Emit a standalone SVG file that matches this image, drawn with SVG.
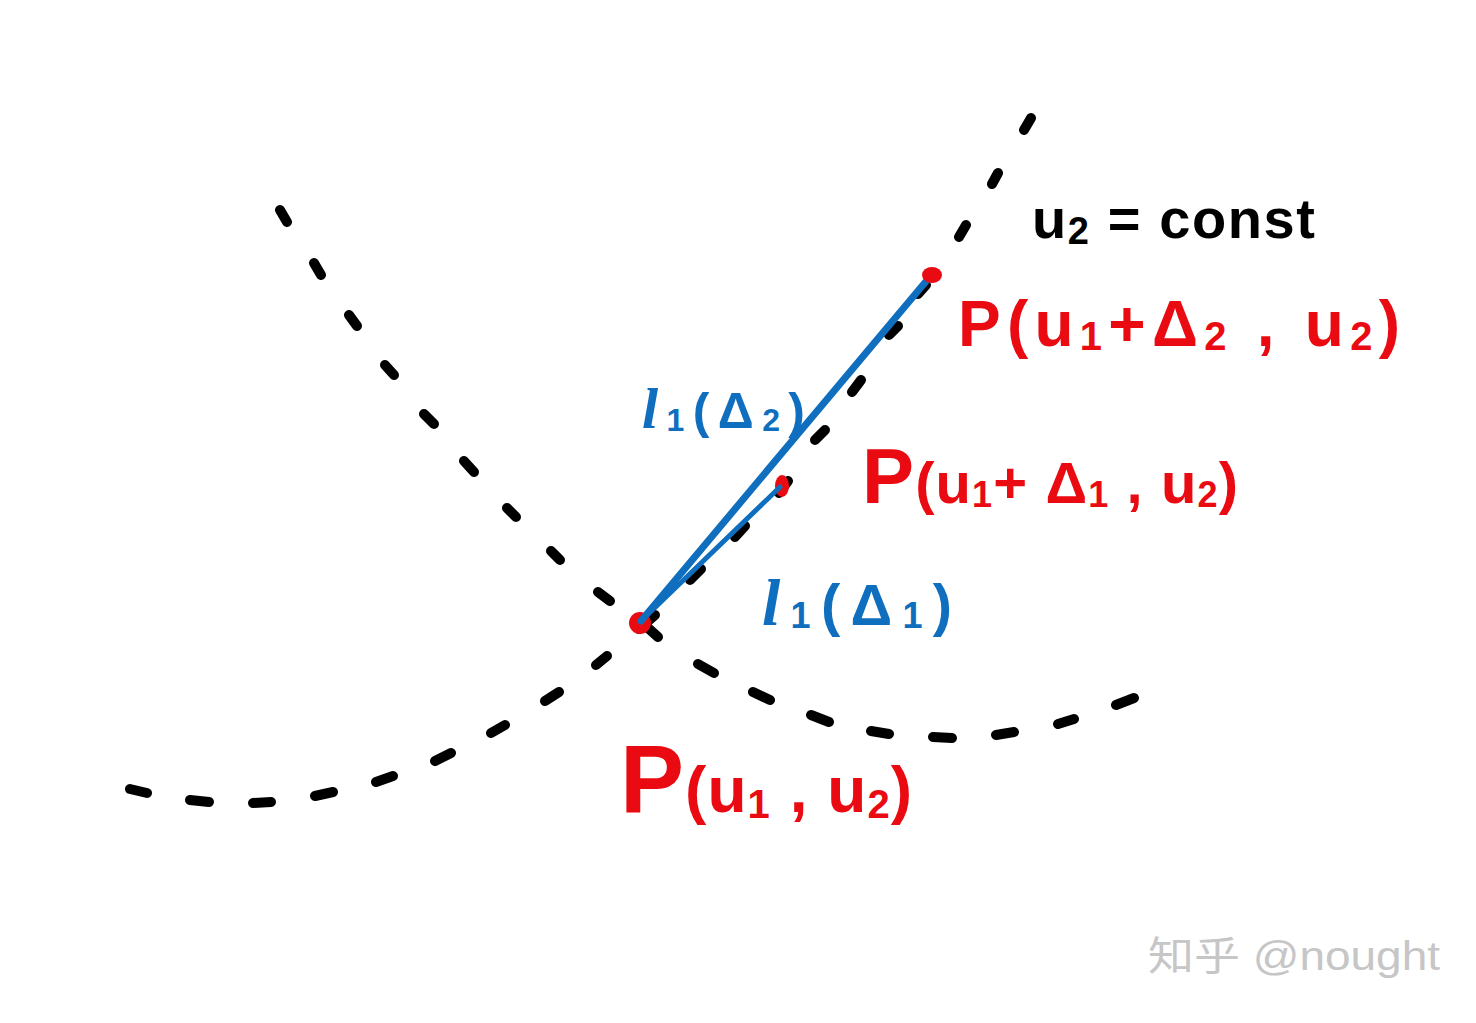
<svg xmlns="http://www.w3.org/2000/svg" width="1476" height="1023" viewBox="0 0 1476 1023">
<style>
.dash{fill:none;stroke:#000;stroke-width:10;stroke-linecap:round}
.blue{fill:none;stroke:#0f6fbe;stroke-linecap:round}
.pt{fill:#ea0a12}
.lbl{font-family:"Liberation Sans","DejaVu Sans",sans-serif;font-weight:bold}
.ell{font-family:"Liberation Serif",serif;font-style:italic}
.red{fill:#ea0a12}
.blk{fill:#000}
.bl{fill:#0f6fbe}
.wm{font-family:"Liberation Sans","Noto Sans CJK SC",sans-serif;fill:#c6c6c6;font-size:40px}
</style>
<rect width="1476" height="1023" fill="#fff"/>
<g id="connectors">
<path id="curve-u1" class="dash" d="M280,210 L287,222 M314,263 L321,275 M349,315 L357,326 M385,365 L394,375 M424,414 L434,424 M464,461 L474,472 M507,508 L516,517 M551,551 L560,560 M598,592 L610,601 M638,619 L658,637 M698,664 L714,673 M753,692 L770,700 M811,715 L829,722 M871,731 L889,734 M933,737 L952,738 M996,735 L1014,732 M1058,724 L1074,719 M1116,705 L1134,698"/>
<path id="curve-u2" class="dash" d="M130,789 L147,793 M190,800 L209,802 M253,803 L271,802 M315,796 L333,792 M376,782 L393,776 M435,761 L451,753 M491,733 L505,725 M545,701 L559,692 M596,665 L607,656 M639,629 L655,615 M690,580 L701,569 M735,537 L745,526 M779,493 L788,481 M815,440 L825,430 M852,392 L861,380 M889,335 L898,326 M918,294 L926,285 M959,237 L966,225 M992,184 L998,173 M1024,130 L1031,118"/>
</g>
<g id="point-P">
<circle class="pt" cx="640" cy="623" r="11"/>
</g>
<g id="point-P1">
<ellipse class="pt" cx="782" cy="486" rx="7" ry="11"/>
</g>
<g id="segments">
<line id="l1-delta1" class="blue" x1="641" y1="621" x2="780" y2="487" stroke-width="5"/>
<line id="l1-delta2" class="blue" x1="641" y1="621" x2="928" y2="279" stroke-width="7"/>
</g>
<g id="point-P2">
<ellipse class="pt" cx="932" cy="275" rx="10" ry="8"/>
</g>
<g id="label-u2-const">
<text class="lbl blk" x="1032" y="238" font-size="56" textLength="283" lengthAdjust="spacing">u<tspan font-size="38" dy="6">2</tspan><tspan dy="-6"> = const</tspan></text>
</g>
<g id="label-P2">
<text class="lbl red" x="958" y="346" font-size="64" textLength="442" lengthAdjust="spacing">P(u<tspan font-size="40" dy="4">1</tspan><tspan dy="-4">+Δ</tspan><tspan font-size="40" dy="4">2</tspan><tspan dy="-4"> , u</tspan><tspan font-size="40" dy="4">2</tspan><tspan dy="-4">)</tspan></text>
</g>
<g id="label-P1">
<text class="lbl red" x="862" y="503" font-size="58" textLength="376" lengthAdjust="spacing"><tspan font-size="78">P</tspan>(u<tspan font-size="36" dy="4">1</tspan><tspan dy="-4">+ Δ</tspan><tspan font-size="36" dy="4">1</tspan><tspan dy="-4"> , u</tspan><tspan font-size="36" dy="4">2</tspan><tspan dy="-4">)</tspan></text>
</g>
<g id="label-l1-delta2">
<text class="lbl bl" x="642" y="428" font-size="50" textLength="163" lengthAdjust="spacing"><tspan class="ell" font-size="58">l</tspan><tspan font-size="32" dy="3">1</tspan><tspan dy="-3">(Δ</tspan><tspan font-size="32" dy="3">2</tspan><tspan dy="-3">)</tspan></text>
</g>
<g id="label-l1-delta1">
<text class="lbl bl" x="762" y="625" font-size="58" textLength="190" lengthAdjust="spacing"><tspan class="ell" font-size="66">l</tspan><tspan font-size="36" dy="3">1</tspan><tspan dy="-3">(Δ</tspan><tspan font-size="36" dy="3">1</tspan><tspan dy="-3">)</tspan></text>
</g>
<g id="label-P">
<text class="lbl red" x="620" y="812" font-size="64" textLength="292" lengthAdjust="spacing"><tspan font-size="96">P</tspan>(u<tspan font-size="40" dy="6">1</tspan><tspan dy="-6"> , u</tspan><tspan font-size="40" dy="6">2</tspan><tspan dy="-6">)</tspan></text>
</g>
<text class="wm" x="1148" y="970" textLength="292" lengthAdjust="spacingAndGlyphs">知乎 @nought</text>
</svg>
